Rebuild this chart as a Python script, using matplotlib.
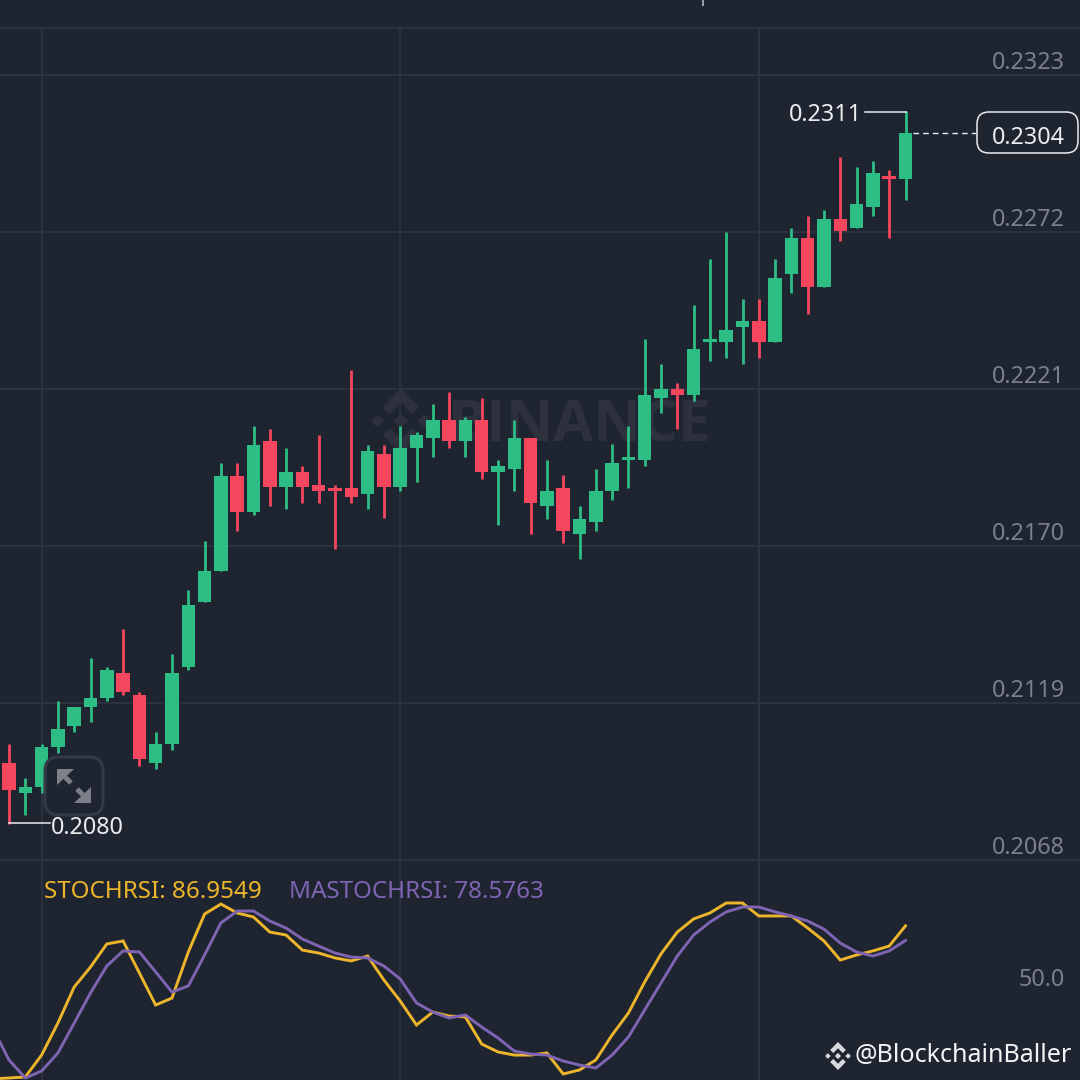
import numpy as np
import matplotlib
matplotlib.use('Agg')
import matplotlib.pyplot as plt
from matplotlib.patches import FancyBboxPatch, Polygon

plt.rcParams['font.family'] = ['Noto Sans', 'DejaVu Sans']

# candle data, oldest first
opens = [0.20995, 0.20898, 0.20917, 0.21047, 0.21115, 0.21177, 0.21206, 0.21288, 0.21216, 0.20995, 0.21057, 0.21307, 0.21518, 0.21619,
         0.21927, 0.21810, 0.22041, 0.21892, 0.21940, 0.21898, 0.21888, 0.21888, 0.21869, 0.21999, 0.21892, 0.22018, 0.22051, 0.22109,
         0.22041, 0.22109, 0.21940, 0.21950, 0.22051, 0.21830, 0.21888, 0.21739, 0.21778, 0.21879, 0.21979, 0.21979, 0.22181, 0.22210,
         0.22191, 0.22363, 0.22363, 0.22411, 0.22431, 0.22363, 0.22584, 0.22701, 0.22541, 0.22762, 0.22733, 0.22801, 0.22902, 0.22892]
highs = [0.21057, 0.20946, 0.21057, 0.21197, 0.21177, 0.21336, 0.21307, 0.21430, 0.21226, 0.21096, 0.21349, 0.21557, 0.21716, 0.21970,
         0.21970, 0.22090, 0.22080, 0.22018, 0.21960, 0.22061, 0.21898, 0.22272, 0.22028, 0.22028, 0.22090, 0.22070, 0.22161, 0.22200,
         0.22119, 0.22181, 0.21979, 0.22109, 0.22051, 0.21979, 0.21931, 0.21830, 0.21950, 0.22031, 0.22090, 0.22372, 0.22291, 0.22230,
         0.22483, 0.22632, 0.22720, 0.22502, 0.22502, 0.22632, 0.22733, 0.22772, 0.22792, 0.22964, 0.22931, 0.22951, 0.22921, 0.23113]
lows = [0.20797, 0.20826, 0.20898, 0.21028, 0.21096, 0.21128, 0.21197, 0.21216, 0.20985, 0.20976, 0.21037, 0.21297, 0.21518, 0.21619,
        0.21749, 0.21801, 0.21830, 0.21820, 0.21840, 0.21840, 0.21690, 0.21840, 0.21820, 0.21791, 0.21879, 0.21908, 0.21989, 0.22018,
        0.21989, 0.21918, 0.21768, 0.21879, 0.21739, 0.21788, 0.21710, 0.21658, 0.21749, 0.21849, 0.21888, 0.21960, 0.22132, 0.22080,
        0.22171, 0.22301, 0.22311, 0.22291, 0.22311, 0.22363, 0.22522, 0.22454, 0.22541, 0.22691, 0.22733, 0.22772, 0.22701, 0.22824]
closes = [0.20907, 0.20917, 0.21047, 0.21106, 0.21177, 0.21206, 0.21297, 0.21226, 0.21008, 0.21057, 0.21288, 0.21508, 0.21619, 0.21927,
          0.21810, 0.22028, 0.21892, 0.21940, 0.21892, 0.21879, 0.21879, 0.21859, 0.22009, 0.21892, 0.22018, 0.22061, 0.22109, 0.22041,
          0.22109, 0.21940, 0.21960, 0.22051, 0.21840, 0.21879, 0.21749, 0.21788, 0.21879, 0.21970, 0.21989, 0.22191, 0.22210, 0.22191,
          0.22340, 0.22372, 0.22402, 0.22431, 0.22363, 0.22571, 0.22701, 0.22541, 0.22762, 0.22723, 0.22811, 0.22912, 0.22892, 0.23042]

# indicator data, starts one candle before the first full candle
stochrsi = [-0.5, 0, 0.6, 13.1, 31.4, 52, 63.4, 76.6, 78.3, 60, 41.7, 45.7, 72, 93.7, 99.4, 94.3, 92, 83.4, 81.7, 73.1, 71.4, 68.6, 66.9,
            69.7, 56, 44, 30.3, 37.7, 35.4, 34.9, 19.4, 14.9, 13.1, 13.1, 14.3, 2.3, 4.6, 10.3, 24.6, 37.1, 54.9, 70.9, 83.4, 90.9, 94.3,
            100, 100, 92.6, 92.6, 92.6, 85.7, 78.3, 67.4, 70.3, 72.6, 75.4, 86.9549]
mastochrsi = [28.6, 10.3, 0, 4, 14.3, 31.4, 48.6, 64, 72.6, 72, 60.6, 49.1, 52.6, 70.3, 88.6, 95.4, 95.4, 89.7, 85.7, 79.4, 75.4, 71.4, 69.1,
              68.6, 64, 56.6, 42.9, 37.7, 34.3, 36, 29.1, 22.9, 15.4, 13.7, 13.1, 9.7, 7.4, 5.7, 13.1, 23.4, 38.9, 54.3, 69.7, 81.7, 89.1,
              94.9, 97.7, 97.7, 94.9, 92.6, 89.7, 85.1, 77.1, 72, 69.7, 72.6, 78.5763]

price_ticks = [0.2323, 0.2272, 0.2221, 0.2170, 0.2119, 0.2068]
time_ticks = [2, 24, 46]
last_price = 0.2304
high_price = 0.2311
low_price = 0.2080

BG = '#1E2530'
GRID = '#2C323E'
LABEL = '#7B808A'
GREEN = '#2EBD85'
RED = '#F6465D'
YELLOW = '#ECB52B'
PURPLE = '#8064B4'
WHITE = '#EAECEF'
MARK = '#2D313D'

fig = plt.figure(figsize=(10.8, 10.8), dpi=100, facecolor=BG)

H = 1080.0
# overlay axes work in picture pixels, y going down
def pixel_axes(z):
    a = fig.add_axes([0, 0, 1, 1], zorder=z)
    a.set_xlim(0, 1080)
    a.set_ylim(1080, 0)
    a.axis('off')
    return a

def binance_logo(a, cx, cy, r, color):
    shapes = [
        [(0, -0.22), (0.22, 0), (0, 0.22), (-0.22, 0)],
        [(-0.72, -0.2), (-0.52, 0), (-0.72, 0.2), (-0.92, 0)],
        [(0.72, -0.2), (0.92, 0), (0.72, 0.2), (0.52, 0)],
        [(0, -0.55), (-0.34, -0.21), (-0.56, -0.43), (0, -1), (0.56, -0.43), (0.34, -0.21)],
        [(0, 0.55), (-0.34, 0.21), (-0.56, 0.43), (0, 1), (0.56, 0.43), (0.34, 0.21)],
    ]
    for s in shapes:
        a.add_patch(Polygon([(cx + r * px, cy + r * py) for px, py in s], closed=True, fc=color, ec='none'))

# watermark sits under the candles
back = pixel_axes(0)
binance_logo(back, 401, 421, 33, MARK)
back.text(580, 427, 'BINANCE', color=MARK, fontsize=42, fontweight='bold', family='Open Sans', ha='center', va='center')
back.plot([0, 1080], [28, 28], color=GRID, lw=1.4)

xlim = ((0 - 9) / 16.3, (1080 - 9) / 16.3)
px_price = 0.0051 / 157

ax = fig.add_axes([0, (H - 860) / H, 1, 832 / H], zorder=1)
ax.patch.set_alpha(0)
ax.set_xlim(xlim)
ax.set_ylim(0.2068, 0.2068 + 832 * px_price)

x = np.arange(len(opens))
opens = np.array(opens)
closes = np.array(closes)
colors = [GREEN if c >= o else RED for o, c in zip(opens, closes)]
ax.vlines(x, lows, highs, colors=colors, lw=2.0, zorder=3)
ax.bar(x, np.abs(closes - opens), bottom=np.minimum(opens, closes), width=0.83, color=colors, zorder=3)

ax.set_xticks(time_ticks)
ax.set_yticks(price_ticks)
ax.grid(True, color=GRID, lw=1.4, zorder=0)
ax.tick_params(length=0, labelbottom=False, labelleft=False)
for s in ax.spines.values():
    s.set_visible(False)
ax.get_ygridlines()[-1].set_clip_on(False)

for p in price_ticks:
    ax.annotate('%.4f' % p, xy=(1, p), xycoords=('axes fraction', 'data'), xytext=(-15, 12),
                textcoords='offset pixels', ha='right', va='center', color=LABEL, fontsize=16.8)

# high, low and last price markers
ax.plot([len(opens) - 1, 52.5], [high_price, high_price], color=WHITE, lw=1.1, zorder=4)
ax.annotate('%.4f' % high_price, xy=(52.5, high_price), xytext=(-3, -3), textcoords='offset pixels',
            ha='right', va='center', color=WHITE, fontsize=16.8)
ax.plot([0, 2.5], [low_price, low_price], color=WHITE, lw=1.1, zorder=4)
ax.annotate('%.4f' % low_price, xy=(2.58, low_price), xytext=(0, -5), textcoords='offset pixels',
            ha='left', va='center', color=WHITE, fontsize=16.8)
ax.plot([55.45, 59.3], [last_price, last_price], color=WHITE, lw=1, ls=(0, (4, 3)), zorder=4)

# indicator panel
sub = fig.add_axes([0, 0, 1, 220 / H], zorder=1)
sub.patch.set_alpha(0)
sub.set_xlim(xlim)
sub.set_ylim(-2 / 1.75, 218 / 1.75)
xs = np.arange(-1, len(stochrsi) - 1)
sub.plot(xs, stochrsi, color=YELLOW, lw=2.1, solid_joinstyle='miter', zorder=3)
sub.plot(xs, mastochrsi, color=PURPLE, lw=2.1, zorder=4)
sub.set_xticks(time_ticks)
sub.set_yticks([])
sub.grid(True, axis='x', color=GRID, lw=1.4, zorder=0)
sub.tick_params(length=0, labelbottom=False, labelleft=False)
for s in sub.spines.values():
    s.set_visible(False)
sub.annotate('50.0', xy=(1, 50), xycoords=('axes fraction', 'data'), xytext=(-15, 10),
             textcoords='offset pixels', ha='right', va='center', color=LABEL, fontsize=16.8)

# top overlay: legend, boxes, icon, handle
top = pixel_axes(3)
top.text(44, 892, 'STOCHRSI: %.4f' % stochrsi[-1], color=YELLOW, fontsize=17.4, va='center')
top.text(289, 892, 'MASTOCHRSI: %.4f' % mastochrsi[-1], color=PURPLE, fontsize=17.4, va='center')

top.add_patch(FancyBboxPatch((985, 120), 85, 25, boxstyle='round,pad=8,rounding_size=12', fc=BG, ec=WHITE, lw=1.1))
top.text(1028, 138, '%.4f' % last_price, color=WHITE, fontsize=16.8, ha='center', va='center')

top.add_patch(FancyBboxPatch((56, 768), 36, 36, boxstyle='round,pad=11,rounding_size=14', fc=BG, ec='#343946', lw=2.2))
ICON = '#7C7F88'
top.add_patch(Polygon([(57, 769), (74, 769), (57, 785)], closed=True, fc=ICON, ec='none'))
top.add_patch(Polygon([(91, 803), (74, 803), (91, 787)], closed=True, fc=ICON, ec='none'))
top.plot([62, 71], [774, 783], color=ICON, lw=3.6, solid_capstyle='butt')
top.plot([86, 77], [798, 789], color=ICON, lw=3.6, solid_capstyle='butt')

binance_logo(top, 838, 1056, 14, '#D9DADD')
top.text(855, 1056, '@BlockchainBaller', color='#F2F3F5', fontsize=18.1, va='center')
top.plot([703, 703], [0, 5], color='#9AA0A8', lw=1.4)

fig.savefig('out.png', dpi=100, facecolor=BG)
